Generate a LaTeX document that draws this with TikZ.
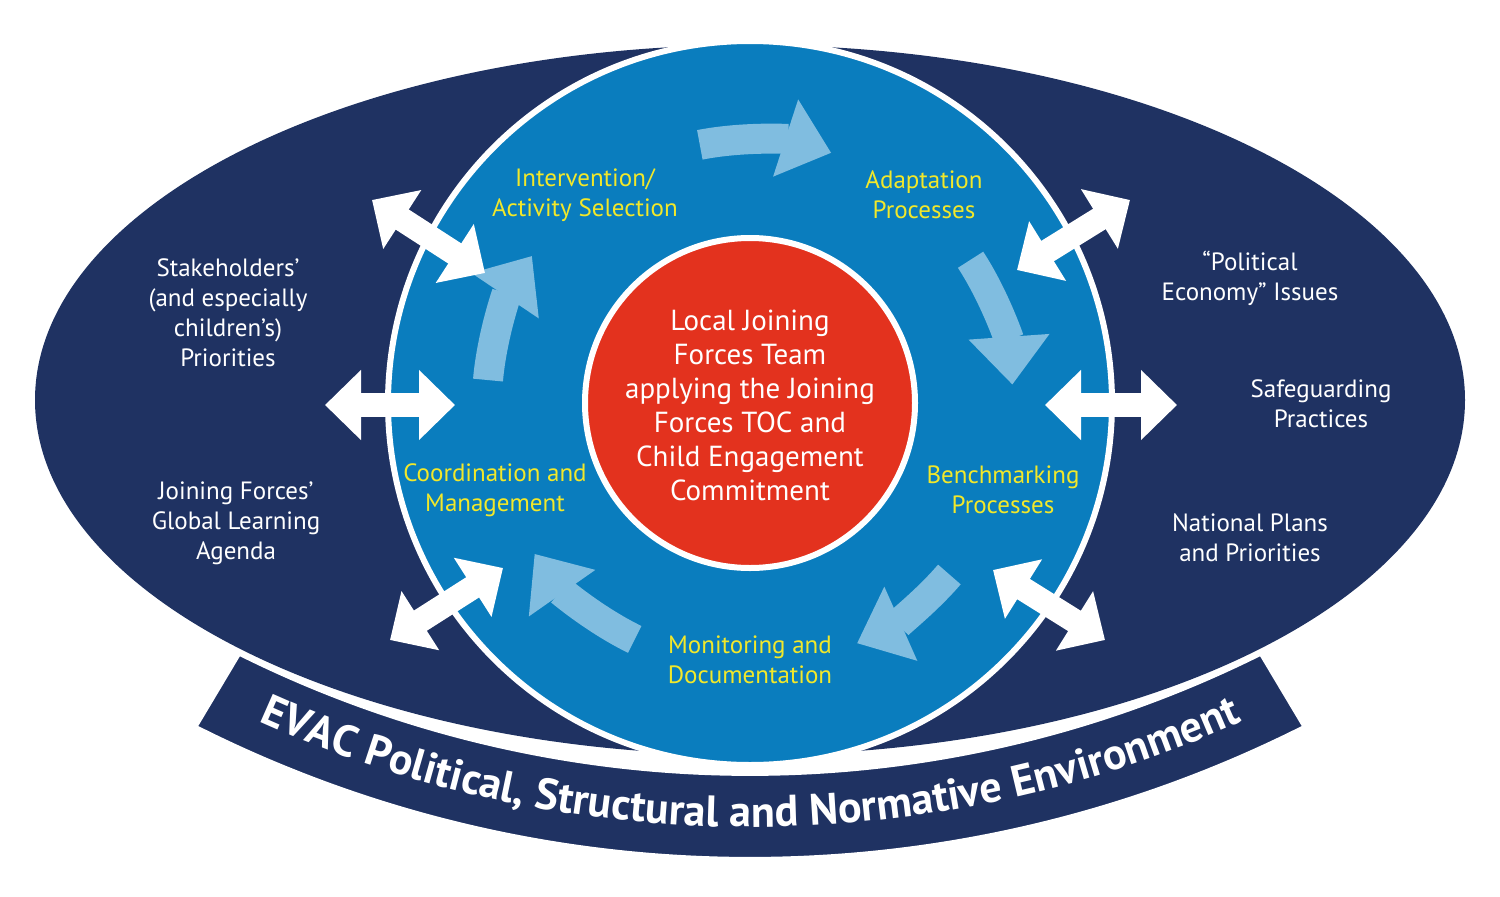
\documentclass[tikz,border=0pt]{standalone}
\usepackage{fontspec}
\setmainfont{PT Sans}
\usetikzlibrary{arrows.meta,decorations.text}
\definecolor{navy}{HTML}{1F3262}
\definecolor{cblue}{HTML}{0A7DBE}
\definecolor{cred}{HTML}{E3321E}
\definecolor{lblue}{HTML}{80BDE0}
\definecolor{yel}{HTML}{F2E82A}
\begin{document}
\begin{tikzpicture}[x=1pt,y=-1pt,
  cyc/.style={lblue,line width=30pt,-{Triangle[length=48pt,width=78pt]}},
  dbl/.style={white,line width=24pt,{Triangle[length=36pt,width=68pt]}-{Triangle[length=36pt,width=68pt]}},
  yl/.style={yel,align=center,font=\fontsize{25}{30}\selectfont},
  wt/.style={white,align=center,font=\fontsize{25}{30}\selectfont}]
\useasboundingbox (0,0) rectangle (1500,897);
% outer ellipse
\fill[navy] (750,400) ellipse[x radius=715,y radius=355];
% banner
\coordinate (bc) at (750,-371);
\fill[navy,draw=white,line width=4pt] ([shift={(116.5:1145)}]bc) arc[start angle=116.5,end angle=63.5,radius=1145]
  -- ([shift={(63.2:1230)}]bc) arc[start angle=63.2,end angle=116.8,radius=1230] -- cycle;
\path[decorate,decoration={text along path,text align=center,
  text={|\fontsize{44}{44}\bfseries\color{white}|EVAC Political, Structural and Normative Environment}}]
  ([shift={(116:1198)}]bc) arc[start angle=116,end angle=64,radius=1198];
% blue circle
\node[circle,fill=cblue,draw=white,line width=6pt,minimum size=724pt] (blue) at (750,403) {};
\node[circle,fill=cred,draw=white,line width=6pt,minimum size=330pt] (red) at (750,403) {};
\node[white,align=center,font=\fontsize{29}{34}\selectfont] (redt) at (750,405)
 {Local Joining\\Forces Team\\applying the Joining\\Forces TOC and\\Child Engagement\\Commitment};
% cycle arrows
\coordinate (c) at (750,403);
\draw[cyc] ([shift={(-101:263)}]c) arc[start angle=-101,end angle=-72,radius=263];
\draw[cyc] ([shift={(-33:263)}]c) arc[start angle=-33,end angle=-4,radius=263];
\draw[cyc] ([shift={(40.7:263)}]c) arc[start angle=40.7,end angle=66,radius=263];
\draw[cyc] ([shift={(116:263)}]c) arc[start angle=116,end angle=145,radius=263];
\draw[cyc] ([shift={(-175:263)}]c) arc[start angle=-175,end angle=-146,radius=263];
% white double arrows
\coordinate (a1) at (325,405); \coordinate (b1) at (455,405);
\coordinate (a2) at (372,200); \coordinate (b2) at (485,273);
\coordinate (a3) at (390,640); \coordinate (b3) at (503,568);
\coordinate (a4) at (1130,200); \coordinate (b4) at (1017,270);
\coordinate (a5) at (1045,405); \coordinate (b5) at (1177,405);
\coordinate (a6) at (993,570); \coordinate (b6) at (1105,640);
\foreach \i in {1,...,6} {\draw[dbl] (a\i) -- (b\i);}
% labels
\node[yl] (t1) at (585,195) {Intervention/\\Activity Selection};
\node[yl] (t2) at (924,195) {Adaptation\\Processes};
\node[yl] (t3) at (1003,490) {Benchmarking\\Processes};
\node[yl] (t4) at (750,660) {Monitoring and\\Documentation};
\node[yl] (t5) at (495,490) {Coordination and\\Management};
\node[wt] (l1) at (228,313) {Stakeholders’\\(and especially\\children’s)\\Priorities};
\node[wt] (l2) at (236,523) {Joining Forces’\\Global Learning\\Agenda};
\node[wt] (r1) at (1250,278) {“Political\\Economy” Issues};
\node[wt] (r2) at (1321,404) {Safeguarding\\Practices};
\node[wt] (r3) at (1250,538) {National Plans\\and Priorities};
\end{tikzpicture}
\end{document}
